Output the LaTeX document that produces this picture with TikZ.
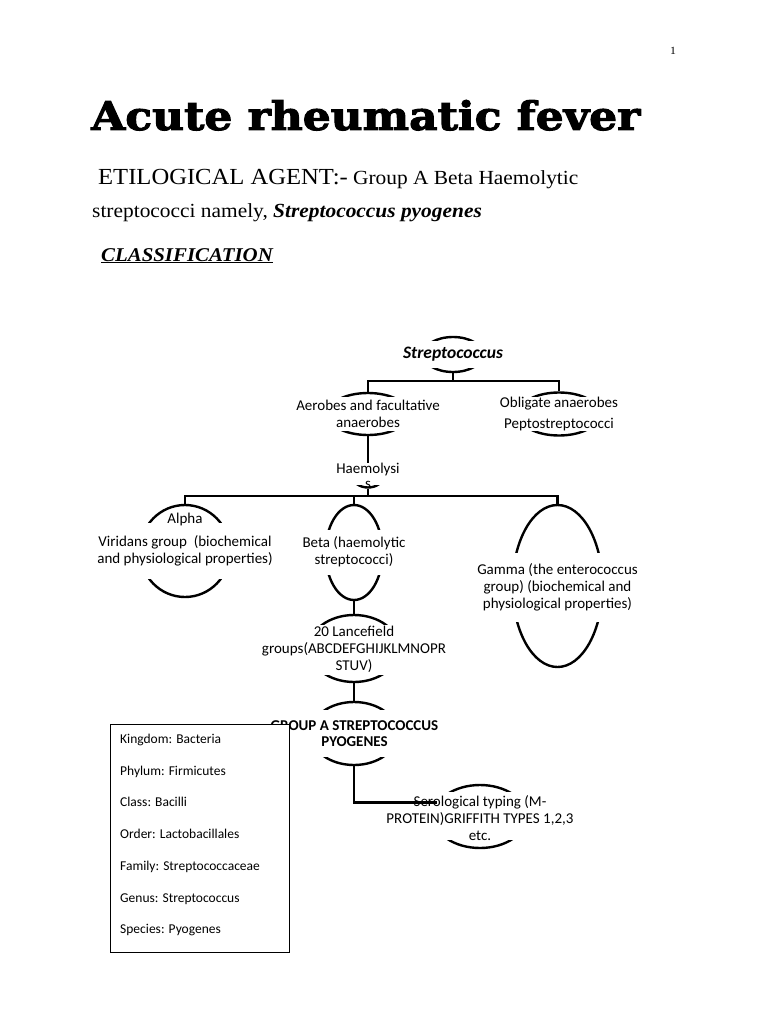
\documentclass[tikz,border=0pt]{standalone}
\usepackage{fontspec}
\setmainfont{Liberation Serif}[FakeStretch=1.07]
\newfontfamily\calibri{Carlito}
\newfontfamily\titlefont{DejaVu Serif}[BoldFeatures={FakeBold=2.5}]
\usetikzlibrary{shapes.geometric,positioning}

\tikzset{
  oval/.style={ellipse,draw,line width=2.4pt,inner sep=0pt},
  txt/.style={align=center,inner sep=0pt,font=\calibri\fontsize{15}{17}\selectfont},
  link/.style={line width=2.6pt},
  taxo/.style={inner sep=0pt,anchor=base west,font=\calibri\fontsize{13.5}{16}\selectfont},
}

\begin{document}
\begin{tikzpicture}[x=1pt,y=-1pt]
    \useasboundingbox[fill=white] (0,0) rectangle (768,1024);

    % heading
    \node[anchor=base,font=\fontsize{11}{13}\selectfont] (pageno) at (673,55) {1};
    \node[anchor=base west,inner sep=0pt] (title) at (91,130)
        {\resizebox{549pt}{30pt}{\titlefont\bfseries Acute rheumatic fever}};
    \node[anchor=base west,inner sep=0pt] (agent) at (98,185)
        {\fontsize{23}{28}\selectfont ETILOGICAL AGENT:-\fontsize{20}{24}\selectfont{} Group A Beta Haemolytic};
    \node[anchor=base west,inner sep=0pt] (namely) at (92,218)
        {\fontsize{20}{24}\selectfont streptococci namely, \textbf{\textit{Streptococcus pyogenes}}};
    \node[anchor=base west,inner sep=0pt] (classif) at (101,261)
        {\fontsize{19.5}{24}\selectfont\bfseries\itshape\underline{CLASSIFICATION}};

    % ovals
    \node[oval,minimum width=60,minimum height=35] (strep) at (453,354.5) {};
    \node[oval,minimum width=82,minimum height=42] (aero) at (368,414) {};
    \node[oval,minimum width=82,minimum height=43] (obli) at (559,414) {};
    \node[oval,minimum width=31,minimum height=23] (haem) at (368,476) {};
    \node[oval,minimum width=90,minimum height=92] (alpha) at (185,551) {};
    \node[oval,minimum width=57,minimum height=95] (beta) at (354,552.5) {};
    \node[oval,minimum width=90,minimum height=162] (gamma) at (557.5,586) {};
    \node[oval,minimum width=90,minimum height=67] (lance) at (354,648.5) {};
    \node[oval,minimum width=87,minimum height=63] (grpa) at (354,733.5) {};
    \node[oval,minimum width=93,minimum height=63] (sero) at (480,816.5) {};

    % the text boxes hide the middle of each oval
    \foreach \n/\up/\dn in {strep/13.5/13.5, aero/17/17, obli/17/17, haem/20/8.5,
        alpha/28/28, beta/22.5/22.5, gamma/33/36, lance/23.5/26.5, grpa/23.5/23.5, sero/24.5/23.5}
        \fill[white] ([xshift=-3pt,yshift=\up pt]\n.west) rectangle ([xshift=3pt,yshift=-\dn pt]\n.east);

    \node[txt,font=\calibri\bfseries\itshape\fontsize{17.5}{19}\selectfont] (strep-t) at (strep) {Streptococcus};
    \node[txt] (aero-t) at (aero) {Aerobes and facultative\\anaerobes};
    \node[txt] (obli-t) at (559,413.5) {Obligate anaerobes\\[4pt]Peptostreptococci};
    \node[txt,font=\calibri\fontsize{15}{15}\selectfont] (haem-t) at (368,475.5) {Haemolysi\\s};
    \node[txt] (alpha-t) at (185,540) {Alpha\\[6pt]Viridans group\ \ (biochemical\\and physiological properties)};
    \node[txt] (beta-t) at (354,551.5) {Beta (haemolytic\\streptococci)};
    \node[txt] (gamma-t) at (557.5,587.5) {Gamma (the enterococcus\\group) (biochemical and\\physiological properties)};
    \node[txt] (lance-t) at (354,649) {20 Lancefield\\groups(ABCDEFGHIJKLMNOPR\\STUV)};
    \node[txt,font=\calibri\bfseries\fontsize{15}{16}\selectfont] (grpa-t) at (354.5,734) {GROUP A STREPTOCOCCUS\\PYOGENES};
    \node[txt] (sero-t) at (480,818) {Serological typing (M-\\PROTEIN)GRIFFITH TYPES 1,2,3\\etc.};

    % connectors
    \coordinate (bar1) at (453,381);
    \coordinate (bar2) at (368,496);
    \draw[link] (strep.south) -- (bar1);
    \draw[link] (aero.north) |- (bar1) -| (obli.north);
    \draw[link] (aero.south) -- (haem.north);
    \draw[link] (haem.south) -- (haem.south |- bar2);
    \draw[link] (alpha.north) |- (bar2) -| (gamma.north);
    \draw[link] (beta.north) -- (beta.north |- bar2);
    \draw[link] (beta.south) -- (lance.north);
    \draw[link] (lance.south) -- (grpa.north);
    \draw[link] (grpa.south) |- (sero.162);

    % taxonomy box
    \node[draw,fill=white,line width=0.9pt,inner sep=0pt,minimum width=179,minimum height=228,
        anchor=north west] (taxbox) at (110,724) {};
    \node[taxo] (kingdom) at (120,743.5) {Kingdom: Bacteria};
    \node[taxo,below=31.7pt of kingdom.base west,anchor=base west] (phylum) {Phylum: Firmicutes};
    \node[taxo,below=31.7pt of phylum.base west,anchor=base west] (class) {Class: Bacilli};
    \node[taxo,below=31.7pt of class.base west,anchor=base west] (order) {Order: Lactobacillales};
    \node[taxo,below=31.7pt of order.base west,anchor=base west] (family) {Family: Streptococcaceae};
    \node[taxo,below=31.7pt of family.base west,anchor=base west] (genus) {Genus: Streptococcus};
    \node[taxo,below=31.7pt of genus.base west,anchor=base west] (species) {Species: Pyogenes};
\end{tikzpicture}
\end{document}
